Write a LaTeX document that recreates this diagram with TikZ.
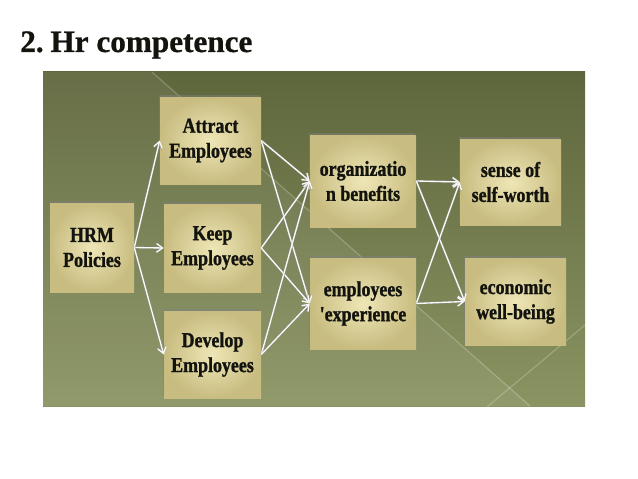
\documentclass[tikz,border=0pt]{standalone}
\usepackage{fontspec}
\setmainfont{Liberation Serif}
\newfontfamily\boxfont[FakeStretch=0.84,FakeBold=1.2]{Liberation Serif}
\newfontfamily\titlefont[FakeBold=0.8]{Liberation Serif}
\usetikzlibrary{arrows.meta,shadows}
\definecolor{bgtop}{RGB}{94,102,60}
\definecolor{bgbot}{RGB}{138,148,98}
\definecolor{boxin}{RGB}{238,230,182}
\definecolor{boxout}{RGB}{200,188,128}
\definecolor{txt}{RGB}{20,20,15}
\tikzset{
  box/.style={rectangle, inner sep=2pt, align=center, text=txt,
    inner color=boxin, outer color=boxout,
    font=\boxfont\bfseries\fontsize{16pt}{18.75pt}\selectfont,
    drop shadow={shadow xshift=-0.8pt, shadow yshift=1.2pt, opacity=0.5}},
  arr/.style={-{Straight Barb[length=4.5pt,width=6.5pt]}, draw=white!95!gray, line width=1pt,
    preaction={draw=black!45, opacity=0.5, line width=1.8pt, -{Straight Barb[length=4.5pt,width=6.5pt]}}},
  deco/.style={draw=white, opacity=0.22, line width=0.9pt}
}
\begin{document}
\begin{tikzpicture}[x=0.75pt,y=-0.75pt]
\useasboundingbox (0,0) rectangle (638,478);
\fill[white] (0,0) rectangle (638,478);
% background panel
\shade[top color=bgtop, bottom color=bgbot] (43,72) rectangle (585,406);
\fill[white, opacity=0.06] (43,72) -- (152,72) -- (530,406) -- (43,406) -- cycle;
\begin{scope}
\clip (43,72) rectangle (585,406);
\draw[deco] (152,72) -- (530,406);
\draw[deco] (487,407) -- (585,325);
\end{scope}
% title
\node[anchor=base west, inner sep=0pt, font=\titlefont\bfseries\fontsize{23.4pt}{28pt}\selectfont, text=txt] (title) at (20,52) {2.\hspace{0.22em}Hr competence};
% boxes
\node[box, minimum width=63pt, minimum height=66.75pt] (hrm) at (92,247.5) {HRM\\Policies};
\node[box, minimum width=75.75pt, minimum height=65.25pt] (att) at (210.5,140.5) {Attract\\Employees};
\node[box, minimum width=72.75pt, minimum height=66pt] (keep) at (212.5,248) {Keep\\Employees};
\node[box, minimum width=72.75pt, minimum height=65.25pt] (dev) at (212.5,354.5) {Develop\\Employees};
\node[box, minimum width=79.5pt, minimum height=69pt] (org) at (363,181) {organizatio\\n benefits};
\node[box, minimum width=79.5pt, minimum height=68.25pt] (emp) at (363,303.5) {employees\\'experience};
\node[box, minimum width=75.75pt, minimum height=64.5pt] (sense) at (510.5,182) {sense of\\self-worth};
\node[box, minimum width=75.75pt, minimum height=65.25pt] (econ) at (515.5,301.5) {economic\\well-being};
% connectors
\draw[arr] (hrm.east) -- (att.west);
\draw[arr] (hrm.east) -- (keep.west);
\draw[arr] (hrm.east) -- (dev.west);
\foreach \s in {att,keep,dev}{
  \draw[arr] (\s.east) -- (org.west);
  \draw[arr] (\s.east) -- (emp.west);
}
\draw[arr] (org.east) -- (sense.west);
\draw[arr] (org.east) -- (econ.west);
\draw[arr] (emp.east) -- (sense.west);
\draw[arr] (emp.east) -- (econ.west);
\end{tikzpicture}
\end{document}
